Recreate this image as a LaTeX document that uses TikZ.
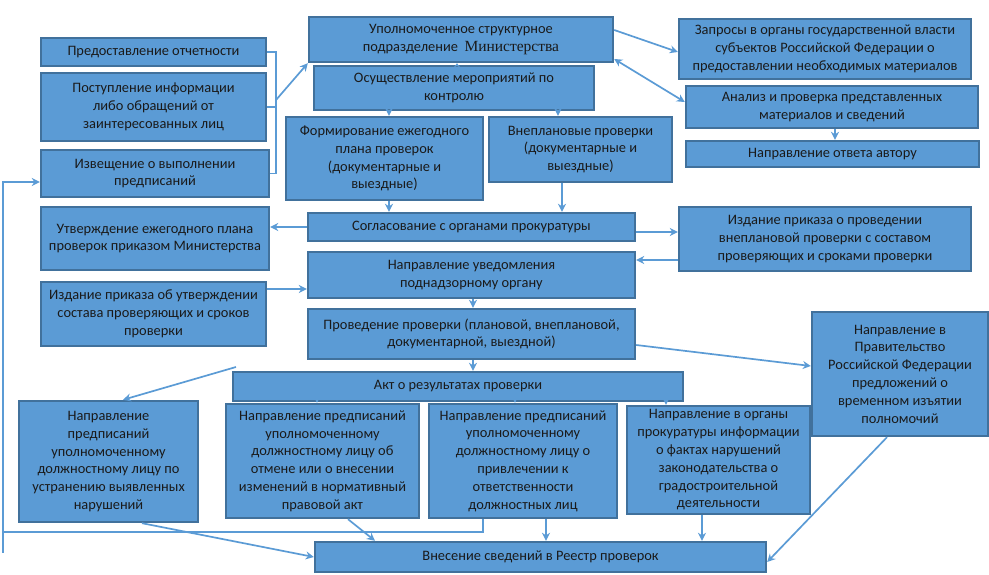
\documentclass[tikz,border=0pt]{standalone}
\usepackage{fontspec}
\setmainfont{Carlito}
\newfontfamily\serifru{Liberation Serif}
\usetikzlibrary{arrows.meta,calc}
\definecolor{boxfill}{HTML}{5B9BD5}
\definecolor{boxline}{HTML}{41719C}
\definecolor{arrowc}{HTML}{5B9BD5}
\definecolor{txt}{HTML}{1A1A1A}
\newcommand{\mybox}[6]{\node[box, minimum width={#4-#2}, minimum height={#5-#3}] (#1) at ({(#2+#4)/2},{(#3+#5)/2}) {#6};}
\begin{document}
\begin{tikzpicture}[x=1pt,y=-1pt,
  box/.style={draw=boxline, fill=boxfill, line width=2.4pt, align=center, inner sep=1pt,
    font=\fontsize{14.4}{17.8}\selectfont, text=txt},
  ln/.style={draw=arrowc, line width=1.7pt},
  arr/.style={ln, -{Stealth[length=8pt,width=8pt]}},
  arrboth/.style={ln, {Stealth[length=8pt,width=8pt]}-{Stealth[length=8pt,width=8pt]}},
  arrsmall/.style={ln, -{Stealth[length=4pt,width=6pt]}}]
\useasboundingbox (0,0) rectangle (989,575);

\mybox{pred}{41}{38}{266}{66}{Предоставление отчетности}
\mybox{post}{41}{73}{266}{141}{Поступление информации\\либо обращений от\\заинтересованных лиц}
\mybox{izv}{41}{150}{269}{197}{Извещение о выполнении\\предписаний}
\mybox{upol}{309}{17}{613}{62}{Уполномоченное структурное\\подразделение \ {\serifru\fontsize{15.5}{17.8}\selectfont Министерства}}
\mybox{osu}{314}{66}{594}{110}{Осуществление мероприятий по\\контролю}
\mybox{form}{286}{117}{483}{200}{Формирование ежегодного\\плана проверок\\(документарные и\\выездные)}
\mybox{vnepl}{489}{117}{672}{182}{Внеплановые проверки\\(документарные и\\выездные)}
\mybox{zapr}{679}{19}{971}{79}{Запросы в органы государственной власти\\субъектов Российской Федерации о\\предоставлении необходимых материалов}
\mybox{anal}{686}{86}{978}{128}{Анализ и проверка представленных\\материалов и сведений}
\mybox{otv}{686}{141}{979}{167}{Направление ответа автору}
\mybox{utv}{41}{207}{269}{270}{Утверждение ежегодного плана\\проверок приказом Министерства}
\mybox{izdu}{41}{282}{266}{346}{Издание приказа об утверждении\\состава проверяющих и сроков\\проверки}
\mybox{sogl}{308}{213}{635}{241}{Согласование с органами прокуратуры}
\mybox{uved}{308}{252}{635}{298}{Направление уведомления\\поднадзорному органу}
\mybox{prov}{308}{309}{635}{359}{Проведение проверки (плановой, внеплановой,\\документарной, выездной)}
\mybox{izdp}{679}{207}{971}{271}{Издание приказа о проведении\\внеплановой проверки с составом\\проверяющих и сроками проверки}
\mybox{pravit}{812}{312}{988}{436}{Направление в\\Правительство\\Российской Федерации\\предложений о\\временном изъятии\\полномочий}
\mybox{akt}{233}{372}{683}{401}{Акт о результатах проверки}
\mybox{lft}{19}{401}{198}{522}{Направление\\предписаний\\уполномоченному\\должностному лицу по\\устранению выявленных\\нарушений}
\mybox{otm}{226}{404}{419}{518}{Направление предписаний\\уполномоченному\\должностному лицу об\\отмене или о внесении\\изменений в нормативный\\правовой акт}
\mybox{priv}{429}{404}{617}{518}{Направление предписаний\\уполномоченному\\должностному лицу о\\привлечении к\\ответственности\\должностных лиц}
\mybox{prok}{627}{406}{810}{514}{Направление в органы\\прокуратуры информации\\о фактах нарушений\\законодательства о\\градостроительной\\деятельности}
\mybox{vnes}{315}{542}{766}{572}{Внесение сведений в Реестр проверок}

% bracket on the left
\coordinate (bt) at (276,52);
\coordinate (brk) at (276,100);
\draw[ln] (pred.east) -- (pred.east -| bt) -- (izv.east -| bt) -- (izv.east);
\draw[ln] (post.east) -- (post.east -| bt);
\draw[arr] (brk) -- (upol.south west);

% loop from priv back to izv
\coordinate (lp1) at (483,532);
\coordinate (lp2) at (3,532);
\coordinate (lp3) at (3,553);
\coordinate (lp4) at (3,182);
\draw[arr] (priv.south -| lp1) -- (lp1) -- (lp2) -- (lp4) -- (lp4 -| izv.west);
\draw[ln] (lp2) -- (lp3);

% top part
\draw[arrsmall] (osu.north -| 457,0) -- (upol.south -| 457,0);
\draw[arr] (upol.east |- 0,30) -- (zapr.west |- 0,52);
\draw[arrboth] (upol.east |- 0,59) -- (anal.west |- 0,102);
\draw[arr] (anal.south -| 835,0) -- (otv.north -| 835,0);
\draw[arr] (osu.south -| 389,0) -- (form.north -| 389,0);
\draw[arr] (osu.south -| 558,0) -- (vnepl.north -| 558,0);
\draw[arr] (form.south -| 389,0) -- (sogl.north -| 389,0);
\draw[arr] (vnepl.south -| 562,0) -- (sogl.north -| 562,0);

% middle
\draw[arr] (sogl.west) -- (utv.east |- sogl.west);
\draw[arr] (izdu.east |- 0,289) -- (uved.west |- 0,289);
\draw[arr] (sogl.east |- 0,232) -- (izdp.west |- 0,232);
\draw[arr] (izdp.west |- 0,260) -- (uved.east |- 0,260);
\draw[arr] (uved.south -| 473,0) -- (prov.north -| 473,0);
\draw[arr] (prov.south -| 473,0) -- (akt.north -| 473,0);
\draw[arr] (prov.east |- 0,345) -- (pravit.west |- 0,366);

% lower part
\coordinate (fr) at (236,367);
\draw[arr] (fr) -- (lft.north -| 123,0);
\draw[arr] (akt.south -| 317,0) -- (otm.north -| 317,0);
\draw[arr] (akt.south -| 515,0) -- (priv.north -| 515,0);
\draw[arr] (akt.south -| 666,0) -- (prok.north -| 666,0);
\draw[arr] (lft.south -| 142,0) -- (vnes.west |- 0,557);
\draw[arr] (otm.south -| 348,0) -- (vnes.north -| 375,0);
\draw[arr] (priv.south -| 546,0) -- (vnes.north -| 546,0);
\draw[arr] (prok.south -| 702,0) -- (vnes.north -| 702,0);
\draw[arr] (pravit.south -| 887,0) -- (vnes.east |- 0,562);
\end{tikzpicture}
\end{document}
